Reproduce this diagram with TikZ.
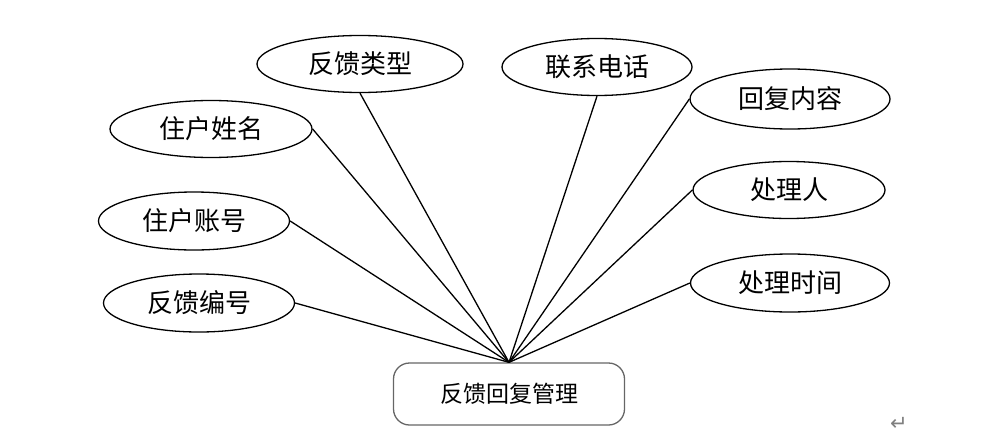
\documentclass[tikz,border=0pt]{standalone}
\usepackage{fontspec}
\usepackage{tikz}
\usetikzlibrary{shapes.geometric}
\newfontfamily\cjk{Noto Sans CJK SC}
\newfontfamily\symfont{DejaVu Sans}

\begin{document}
\begin{tikzpicture}[x=1pt, y=-1pt,
  attr/.style={ellipse, draw, line width=1.3pt, inner sep=0pt, minimum width=196pt, minimum height=57pt, font=\cjk\fontsize{26}{30}\selectfont},
  entity/.style={rectangle, rounded corners=16pt, draw=gray!80!black, line width=1.3pt, minimum width=231pt, minimum height=62pt, font=\cjk\fontsize{23}{27}\selectfont},
  link/.style={line width=1.3pt}]
\useasboundingbox (0,0) rectangle (982,439);
\node[entity] (fkhf) at (509,394) {反馈回复管理};
\node[attr, minimum width=206pt] (fklx) at (360,64) {反馈类型};
\node[attr, minimum width=190pt] (lxdh) at (597,67) {联系电话};
\node[attr, minimum width=200pt, minimum height=60pt] (hfnr) at (790,99) {回复内容};
\node[attr, minimum width=202pt] (zhxm) at (211,129) {住户姓名};
\node[attr, minimum width=192pt] (clr) at (789,190) {处理人};
\node[attr, minimum width=191pt, minimum height=58pt] (zhzh) at (194,221) {住户账号};
\node[attr, minimum width=199pt, minimum height=58pt] (clsj) at (790,283) {处理时间};
\node[attr, minimum width=191pt, minimum height=58pt] (fkbh) at (199,303) {反馈编号};
% lines meet at the top of the box
\draw[link] (fklx.south) -- (fkhf.north);
\draw[link] (lxdh.south) -- (fkhf.north);
\draw[link] (hfnr.west) -- (fkhf.north);
\draw[link] (zhxm.east) -- (fkhf.north);
\draw[link] (clr.west) -- (fkhf.north);
\draw[link] (zhzh.east) -- (fkhf.north);
\draw[link] (clsj.west) -- (fkhf.north);
\draw[link] (fkbh.east) -- (fkhf.north);
\node[text=gray, font=\symfont\fontsize{21}{24}\selectfont] (mark) at (899,424) {↵};
\end{tikzpicture}
\end{document}
